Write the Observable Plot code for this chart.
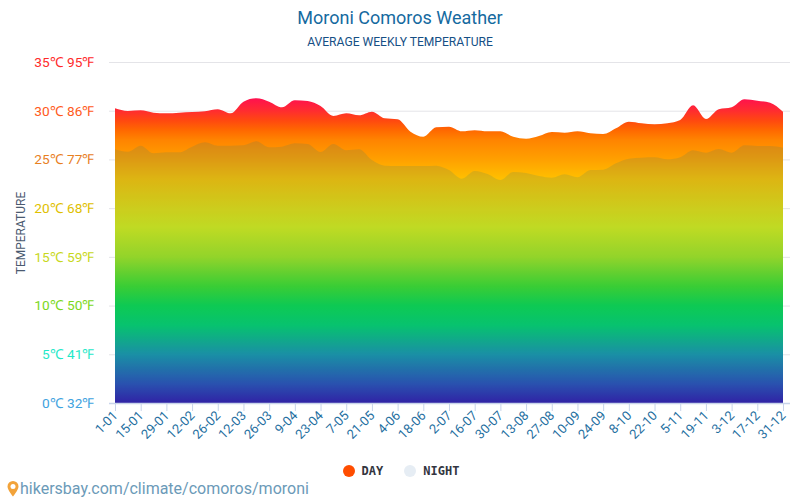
<!DOCTYPE html>
<html><head><meta charset="utf-8">
<script src="https://cdn.jsdelivr.net/npm/d3@7"></script>
<script src="https://cdn.jsdelivr.net/npm/@observablehq/plot@0.6"></script>
<style>
html,body{margin:0;padding:0;background:#fff;overflow:hidden;width:800px;height:500px;font-family:Roboto,sans-serif}
#title{height:30px;padding-top:7px;box-sizing:border-box;line-height:22px;text-align:center;font-size:18px;color:#156a9f}
#sub{height:20px;line-height:24px;text-align:center;font-size:12.100px;color:#154f85}
#chart svg{display:block}
#legend{height:20px;margin-top:11px;display:flex;justify-content:center;align-items:center;font:bold 12px "DejaVu Sans Mono",monospace;color:#33363f;padding-left:2px;box-sizing:border-box}
#legend i{width:12px;height:12px;border-radius:50%;display:inline-block;margin-right:7px}
#legend span{display:flex;align-items:center}
#legend span+span{margin-left:21px}
#foot{position:absolute;left:6px;top:479px;font-size:16px;line-height:20px;color:#6b9ab8;display:flex;align-items:center}
</style></head><body>
<div id="title">Moroni Comoros Weather</div>
<div id="sub">AVERAGE WEEKLY TEMPERATURE</div>
<div id="chart"></div>
<div id="legend"><span><i style="background:#ff4d00"></i>DAY</span><span><i style="background:#e6edf4"></i>NIGHT</span></div>
<div id="foot"><svg width="14" height="18" viewBox="0 0 14 18"><path d="M7 1a5.500 5.500 0 0 0-5.500 5.500C1.500 10 7 16.500 7 16.500S12.500 10 12.500 6.500A5.500 5.500 0 0 0 7 1z" fill="#f2a33a"/><circle cx="7" cy="6.500" r="2.500" fill="#fff"/></svg><span>hikersbay.com/climate/comoros/moroni</span></div>
<script>
const dayTemps = [30.25,29.97,30.04,29.8,29.73,29.8,29.87,29.94,30.15,29.73,30.93,31.27,30.93,30.35,31.07,31.0,30.48,29.46,29.73,29.53,29.9,29.22,29.12,27.85,27.33,28.3,28.36,27.89,28.0,27.89,27.89,27.33,27.13,27.4,27.81,27.74,27.89,27.68,27.61,28.2,28.87,28.71,28.6,28.71,29.05,30.55,29.15,30.15,30.35,31.17,31.03,30.82,29.9];
const nightTemps = [26.04,25.79,26.41,25.63,25.73,25.73,26.31,26.76,26.41,26.41,26.45,26.86,26.24,26.31,26.65,26.58,25.76,26.58,25.94,26.04,24.94,24.36,24.33,24.33,24.33,24.36,23.91,23.02,23.81,23.5,22.89,23.71,23.61,23.3,23.12,23.47,23.17,23.91,23.95,24.6,25.07,25.18,25.22,25.01,25.22,25.94,25.69,26.07,25.69,26.45,26.38,26.38,26.2];
const tickLabels = ["1-01","15-01","29-01","12-02","26-02","12-03","26-03","9-04","23-04","7-05","21-05","4-06","18-06","2-07","16-07","30-07","13-08","27-08","10-09","24-09","8-10","22-10","5-11","19-11","3-12","17-12","31-12"];
const yTicks = [0,5,10,15,20,25,30,35];
const yFahrenheit = [32,41,50,59,68,77,86,95];
const yColors = ["#3fa3e0","#1fe8c8","#7cd81c","#c8d81c","#e0c000","#e8801f","#ff5a20","#ff2a2a"];
const gradTemps = [0,2,5,8,10,12,15,18,20,23,25,27,28,29,30,31.3];
const gradColors = ["#3414ac","#2c4cb8","#1a94ac","#04d06c","#0cd84c","#40dc28","#a8e41c","#dcec14","#ecdc0c","#ffc000","#ffa000","#ff8400","#ff6800","#ff4810","#ff2c30","#ff1050"];

const days = dayTemps.map((t,i)=>({i,t}));
const nights = nightTemps.map((t,i)=>({i,t}));
const xTicks = tickLabels.map((_,k)=>k*2);

function gradientDefs(index, scales){
  const ns="http://www.w3.org/2000/svg";
  const defs=document.createElementNS(ns,"defs");
  const g=document.createElementNS(ns,"linearGradient");
  g.setAttribute("id","dayGrad");
  g.setAttribute("gradientUnits","userSpaceOnUse");
  g.setAttribute("x1",0);g.setAttribute("x2",0);
  const y0=scales.y(gradTemps[0]), y1=scales.y(gradTemps[gradTemps.length-1]);
  g.setAttribute("y1",y0);g.setAttribute("y2",y1);
  gradTemps.forEach((t,k)=>{
    const s=document.createElementNS(ns,"stop");
    s.setAttribute("offset",(scales.y(t)-y0)/(y1-y0));
    s.setAttribute("stop-color",gradColors[k]);
    g.appendChild(s);
  });
  defs.appendChild(g);
  return defs;
}

const plot = Plot.plot({
  width:800,height:400,
  marginLeft:115,marginRight:17,marginTop:12,marginBottom:47,
  style:{fontFamily:"Roboto,sans-serif",background:"#fff"},
  x:{domain:[0,52],label:null},
  y:{domain:[0,35],label:null},
  marks:[
    gradientDefs,
    Plot.ruleY(yTicks.slice(1),{stroke:"#e4e4e8",strokeWidth:1,insetLeft:-6,insetRight:-7}),
    Plot.areaY(days,{x:"i",y:"t",fill:"url(#dayGrad)",curve:"monotone-x"}),
    Plot.areaY(nights,{x:"i",y:"t",fill:"#1e7882",fillOpacity:0.15,curve:"monotone-x"}),
    Plot.ruleY([0],{stroke:"#c8d4ea",strokeWidth:1.5,insetLeft:-6,insetRight:-7}),
    Plot.axisY({ticks:yTicks,tickSize:0,tickPadding:21,fontSize:13.700,
      tickFormat:d=>`${d}℃ ${yFahrenheit[yTicks.indexOf(d)]}℉`,
      fill:d=>yColors[yTicks.indexOf(d)],label:null}),
    Plot.axisX({ticks:xTicks,tickSize:8,tickRotate:-45,tickPadding:2,fontSize:13,stroke:"#c8d4ea",
      fill:"#1f6f9f",tickFormat:d=>tickLabels[d/2],label:null}),
    Plot.text(["TEMPERATURE"],{frameAnchor:"left",textAnchor:"middle",rotate:-90,dx:-94,fontSize:12,fill:"#4a5a70"})
  ]
});
document.getElementById("chart").appendChild(plot);
</script>
</body></html>
